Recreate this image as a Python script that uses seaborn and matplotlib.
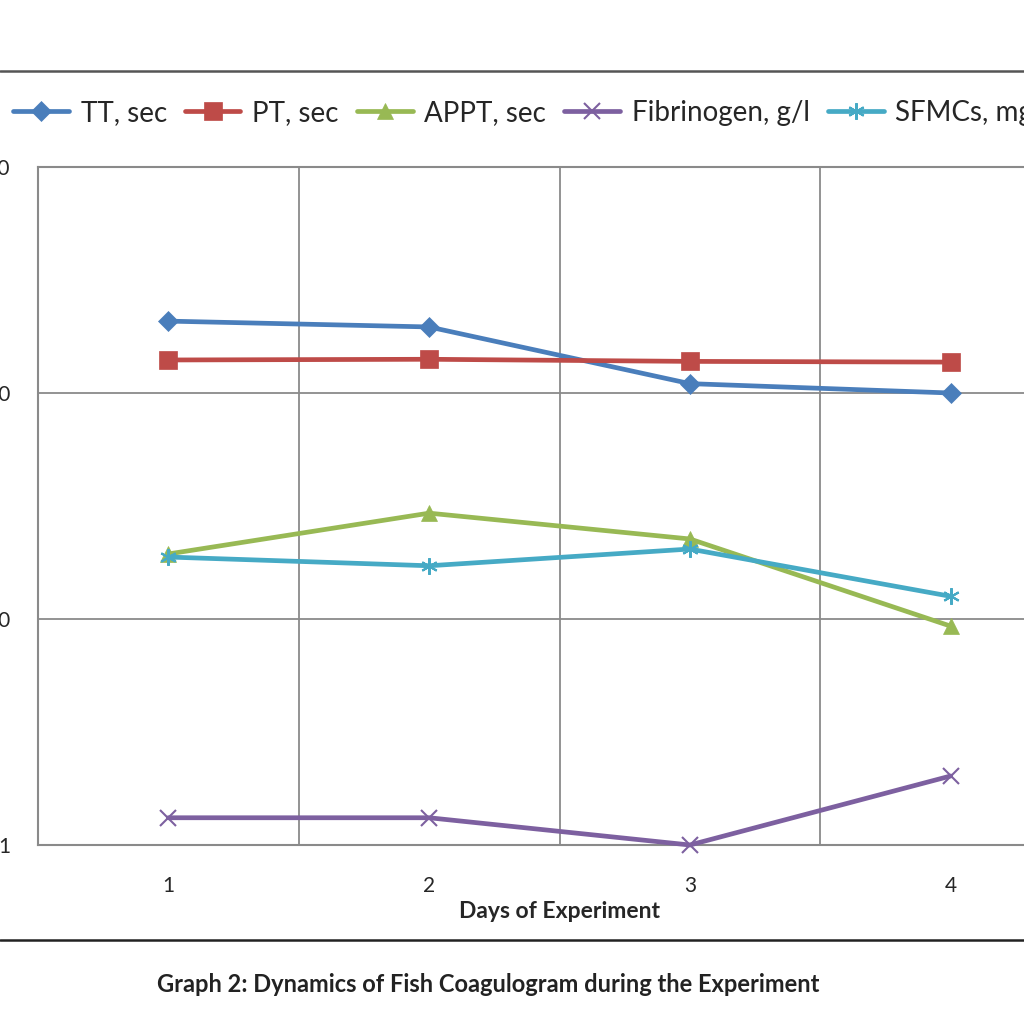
import numpy as np
import matplotlib.pyplot as plt
import pandas as pd
import seaborn as sns
from matplotlib.lines import Line2D
from matplotlib.ticker import FixedLocator, FixedFormatter, NullLocator

days = [1, 2, 3, 4]
tt_sec = [208, 196, 110, 100]
pt_sec = [140, 141, 138, 137]
appt_sec = [19.4, 29.4, 22.6, 9.3]
fibrinogen = [1.32, 1.32, 1.0, 2.02]
sfmcs = [18.8, 17.2, 20.4, 12.6]

series_names = ["TT, sec", "PT, sec", "APPT, sec", "Fibrinogen, g/l", "SFMCs, mg%"]
series_values = [tt_sec, pt_sec, appt_sec, fibrinogen, sfmcs]
colors = ["#4A7EBB", "#BE4B48", "#98B954", "#7D60A0", "#46AAC5"]
markers = ["D", "s", "^", "x", (6, 2, 0)]
marker_sizes = [10, 13, 12, 11, 12]

y_ticks = [1, 10, 100, 1000]

sns.set_style("white")
plt.rcParams["font.family"] = ["Lato", "DejaVu Sans"]

fig = plt.figure(figsize=(10.24, 10.24), dpi=100)
ax = fig.add_axes([38 / 1024, 1 - 845 / 1024, (1081 - 38) / 1024, (845 - 167) / 1024])

for name, vals, col, mk, ms in zip(series_names, series_values, colors, markers, marker_sizes):
    sns.lineplot(x=days, y=vals, ax=ax, color=col, marker=mk, markersize=ms,
                 markeredgecolor=col, markeredgewidth=1.5 if mk in ("x", (6, 2, 0)) else 0.5,
                 linewidth=3.4, label=name, clip_on=False, zorder=3)

ax.set_yscale("log")
ax.set_ylim(1, 1000)
ax.set_xlim(0.5, 4.5)
ax.yaxis.set_major_locator(FixedLocator(y_ticks))
ax.yaxis.set_major_formatter(FixedFormatter([str(v) for v in y_ticks]))
ax.yaxis.set_minor_locator(NullLocator())
ax.set_xticks(days)
ax.set_xticklabels([str(d) for d in days])
ax.set_xticks([1.5, 2.5, 3.5], minor=True)

ax.grid(False)
ax.grid(True, axis="y", which="major", color="#8A8A8A", linewidth=1.3)
ax.grid(True, axis="x", which="minor", color="#8A8A8A", linewidth=1.3)
for s in ax.spines.values():
    s.set_visible(True)
    s.set_color("#8A8A8A")
    s.set_linewidth(1.5)

ax.tick_params(axis="both", which="both", length=0)
ax.tick_params(axis="y", pad=20, labelsize=15)
ax.tick_params(axis="x", pad=22, labelsize=15)
ax.set_xlabel("Days of Experiment", fontsize=16.5, fontweight="bold", labelpad=4)
ax.set_ylabel("")

handles, labels = ax.get_legend_handles_labels()
ax.get_legend().remove()
fig.legend(handles, labels, loc="center left", bbox_to_anchor=(2 / 1024, 1 - 113 / 1024),
           ncol=5, frameon=False, fontsize=20, handlelength=2.0, columnspacing=0.65,
           handletextpad=0.43, borderaxespad=0)

# chart area border lines
fig.add_artist(Line2D([0, 1], [1 - 71 / 1024] * 2, color="#555555", linewidth=1.8))
fig.add_artist(Line2D([0, 1], [1 - 940 / 1024] * 2, color="#222222", linewidth=1.8))

fig.text(488 / 1024, 1 - 985 / 1024, "Graph 2: Dynamics of Fish Coagulogram during the Experiment",
         ha="center", va="center", fontsize=17, fontweight="bold", color="#222222")

fig.savefig("out.png", dpi=100)
